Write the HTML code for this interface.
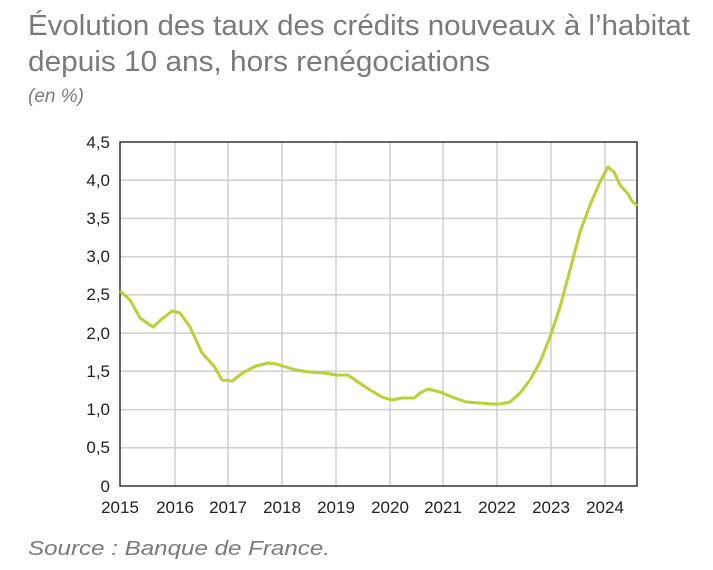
<!DOCTYPE html>
<html><head><meta charset="utf-8"><style>
body{margin:0;background:#fff;width:713px;height:565px;overflow:hidden;font-family:"Liberation Sans",sans-serif}
</style></head><body>
<svg width="713" height="565" xmlns="http://www.w3.org/2000/svg" font-family="Liberation Sans, sans-serif">
<text x="28" y="35" font-size="29" fill="#7a7a7a" textLength="662" lengthAdjust="spacingAndGlyphs">Évolution des taux des crédits nouveaux à l’habitat</text>
<text x="28" y="71" font-size="29" fill="#7a7a7a" textLength="462" lengthAdjust="spacingAndGlyphs">depuis 10 ans, hors renégociations</text>
<text x="28" y="102" font-size="19" font-style="italic" fill="#7a7a7a">(en %)</text>
<g stroke="#cfcfcf" stroke-width="1.5">
<line x1="120" y1="180.2" x2="637" y2="180.2"/><line x1="120" y1="218.4" x2="637" y2="218.4"/>
<line x1="120" y1="256.7" x2="637" y2="256.7"/><line x1="120" y1="294.9" x2="637" y2="294.9"/>
<line x1="120" y1="333.1" x2="637" y2="333.1"/><line x1="120" y1="371.3" x2="637" y2="371.3"/>
<line x1="120" y1="409.6" x2="637" y2="409.6"/><line x1="120" y1="447.8" x2="637" y2="447.8"/>
<line x1="175" y1="142" x2="175" y2="486"/><line x1="228" y1="142" x2="228" y2="486"/>
<line x1="282" y1="142" x2="282" y2="486"/><line x1="336" y1="142" x2="336" y2="486"/>
<line x1="390" y1="142" x2="390" y2="486"/><line x1="443" y1="142" x2="443" y2="486"/>
<line x1="497" y1="142" x2="497" y2="486"/><line x1="551" y1="142" x2="551" y2="486"/>
<line x1="605" y1="142" x2="605" y2="486"/>
</g>
<rect x="120" y="142" width="517" height="344" fill="none" stroke="#333" stroke-width="1.5"/>
<polyline fill="none" stroke="#b5d334" stroke-width="3" stroke-linejoin="round" points="120,291 130,300 140,318 153,327 163,318 172,311 180,313 190,327 202,353 214,366 222,380 232,381 244,372 256,366 268,363 276,364 286,367 296,370 310,372 324,373 336,375 348,375 358,382 370,390 382,397 392,400 402,398 414,398 420,393 428,389 440,392 452,397 466,402 480,403 492,404 500,404 510,402 520,393 530,380 540,362 550,337 560,307 570,270 580,232 590,205 600,182 608,167 614,172 620,185 628,194 632,201 637,206"/>
<g font-size="17" fill="#222" text-anchor="end">
<text x="110" y="148">4,5</text><text x="110" y="186">4,0</text><text x="110" y="224">3,5</text>
<text x="110" y="262">3,0</text><text x="110" y="300">2,5</text><text x="110" y="339">2,0</text>
<text x="110" y="377">1,5</text><text x="110" y="415">1,0</text><text x="110" y="453">0,5</text>
<text x="110" y="492">0</text>
</g>
<g font-size="17" fill="#222" text-anchor="middle">
<text x="120" y="513">2015</text><text x="175" y="513">2016</text><text x="228" y="513">2017</text>
<text x="282" y="513">2018</text><text x="336" y="513">2019</text><text x="390" y="513">2020</text>
<text x="443" y="513">2021</text><text x="497" y="513">2022</text><text x="551" y="513">2023</text>
<text x="605" y="513">2024</text>
</g>
<text x="28" y="555" font-size="20" font-style="italic" fill="#7a7a7a" textLength="302" lengthAdjust="spacingAndGlyphs">Source : Banque de France.</text>
</svg>
</body></html>
